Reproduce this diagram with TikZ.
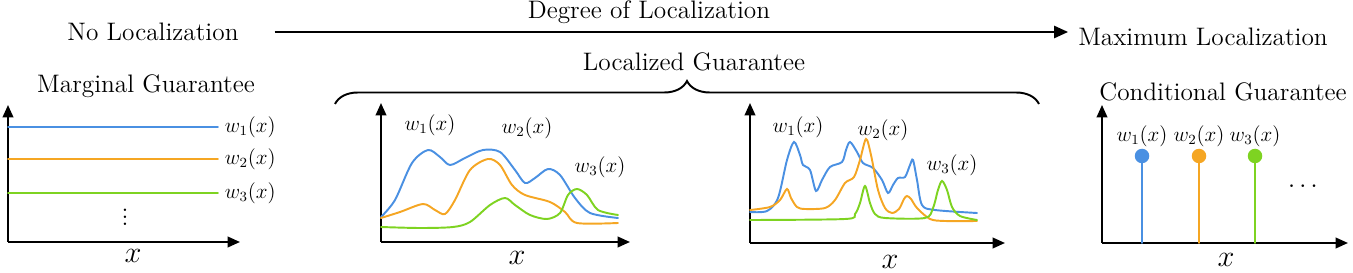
\documentclass[tikz,border=0pt]{standalone}
\usepackage{amsmath,amssymb}
\usepackage{xcolor}
\usepackage{tikz}
\usetikzlibrary{arrows.meta, positioning, decorations.pathreplacing}
\definecolor{wblue}{RGB}{74,144,226}
\definecolor{worange}{RGB}{245,166,35}
\definecolor{wgreen}{RGB}{126,211,33}

\begin{document}
\begin{tikzpicture}[
  x=0.02cm, y=-0.02cm,
  title/.style={font=\Large},
  wlabel/.style={font=\large},
  xlabel/.style={font=\LARGE},
  axis/.style={-{Triangle[length=7pt, width=6pt]}, line width=1.1pt},
  curve/.style={line width=1.1pt, line cap=round},
  arrow/.style={-{Triangle[length=8pt, width=7pt]}, line width=1.1pt},
  stemdot/.style={circle, inner sep=0pt, minimum size=0.29cm},
]
\useasboundingbox (0,0) rectangle (1353,273);

% Titles
\node[title] (nolocal) at (153,32) {No Localization};
\node[title] (maxlocal) at (1203,37) {Maximum Localization};
\node[title] (degree) at (649,12) {Degree of Localization};
\node[title] (localized) at (694,62) {Localized Guarantee};
\node[title] (marginal) at (146,86) {Marginal Guarantee};
\node[title] (conditional) at (1223,92) {Conditional Guarantee};

% Arrows
\draw[arrow, shorten <=0.6cm, shorten >=0.08cm] (nolocal.east) -- (nolocal.east -| maxlocal.west);
\draw[decorate, decoration={brace, amplitude=0.46cm}, line width=1.1pt] (335,104) -- (1039,104);

% Marginal panel
\draw[axis] (8,242) -- (8,105);
\draw[axis] (8,242) -- (240,242);
\draw[curve, wblue] (8,127) -- (218,127) node[right, wlabel, text=black] {$w_1(x)$};
\draw[curve, worange] (8,159) -- (218,159) node[right, wlabel, text=black] {$w_2(x)$};
\draw[curve, wgreen] (8,193) -- (218,193) node[right, wlabel, text=black] {$w_3(x)$};
\node[title] (vdots1) at (125,212) {$\vdots$};
\node[xlabel] (x1) at (133,256) {$x$};

% Localized panel, wide bandwidth
\draw[axis] (381,242) -- (381,103);
\draw[axis] (381,242) -- (630,242);
\draw[curve, wblue] plot[smooth] coordinates {(381,217) (395,200) (412,163) (428,150) (440,157) (450,165) (465,158) (483,150) (500,152) (515,170) (525,183) (535,178) (548,169) (560,175) (575,198) (590,213) (618,218)};
\draw[curve, worange] plot[smooth] coordinates {(381,218) (400,212) (423,204) (435,210) (445,214) (455,200) (470,170) (488,159) (500,165) (512,185) (525,195) (550,202) (565,212) (577,223) (618,223)};
\draw[curve, wgreen] plot[smooth] coordinates {(381,227) (420,228) (453,227) (470,222) (490,205) (505,198) (515,205) (530,215) (547,219) (560,213) (568,195) (577,189) (587,195) (598,210) (618,215)};
\node[wlabel] (w21) at (430,125) {$w_1(x)$};
\node[wlabel] (w22) at (527,128) {$w_2(x)$};
\node[wlabel] (w23) at (600,167) {$w_3(x)$};
\node[xlabel] (x2) at (517,258) {$x$};

% Localized panel, narrow bandwidth
\draw[axis] (750,243) -- (750,103);
\draw[axis] (750,243) -- (1005,243);
\draw[curve, wblue] plot[smooth] coordinates {(750,212) (767,211) (778,198) (787,160) (794,142) (800,155) (803,165) (810,170) (816,191) (822,180) (830,167) (842,162) (846,150) (850,142) (857,152) (863,163) (873,168) (882,180) (888,193) (893,185) (898,178) (905,177) (910,165) (913,160) (917,180) (922,205) (935,210) (977,213)};
\draw[curve, worange] plot[smooth] coordinates {(750,210) (770,207) (780,200) (787,189) (791,198) (797,207) (805,209) (825,208) (835,200) (845,183) (854,177) (860,160) (866,139) (871,155) (878,190) (885,208) (892,213) (899,209) (904,199) (907,196) (911,199) (917,208) (930,219) (945,221) (977,221)};
\draw[curve, wgreen] plot[smooth] coordinates {(750,220) (845,219) (855,214) (860,203) (865,186) (870,203) (875,214) (885,218) (925,218) (933,208) (938,190) (942,181) (947,190) (952,207) (960,216) (977,220)};
\node[wlabel] (w31) at (798,127) {$w_1(x)$};
\node[wlabel] (w32) at (883,130) {$w_2(x)$};
\node[wlabel] (w33) at (952,165) {$w_3(x)$};
\node[xlabel] (x3) at (890,262) {$x$};

% Conditional panel
\draw[axis] (1102,243) -- (1102,105);
\draw[axis] (1102,243) -- (1348,243);
\node[stemdot, fill=wblue] (d1) at (1142,156) {};
\node[stemdot, fill=worange] (d2) at (1199,156) {};
\node[stemdot, fill=wgreen] (d3) at (1255,156) {};
\draw[curve, wblue] (d1.center) -- (1142,243);
\draw[curve, worange] (d2.center) -- (1199,243);
\draw[curve, wgreen] (d3.center) -- (1255,243);
\node[wlabel] (w41) at (1142,136) {$w_1(x)$};
\node[wlabel] (w42) at (1199,136) {$w_2(x)$};
\node[wlabel] (w43) at (1255,136) {$w_3(x)$};
\node[title] (cdots4) at (1305,187) {$\cdots$};
\node[xlabel] (x4) at (1226,260) {$x$};

\end{tikzpicture}
\end{document}
